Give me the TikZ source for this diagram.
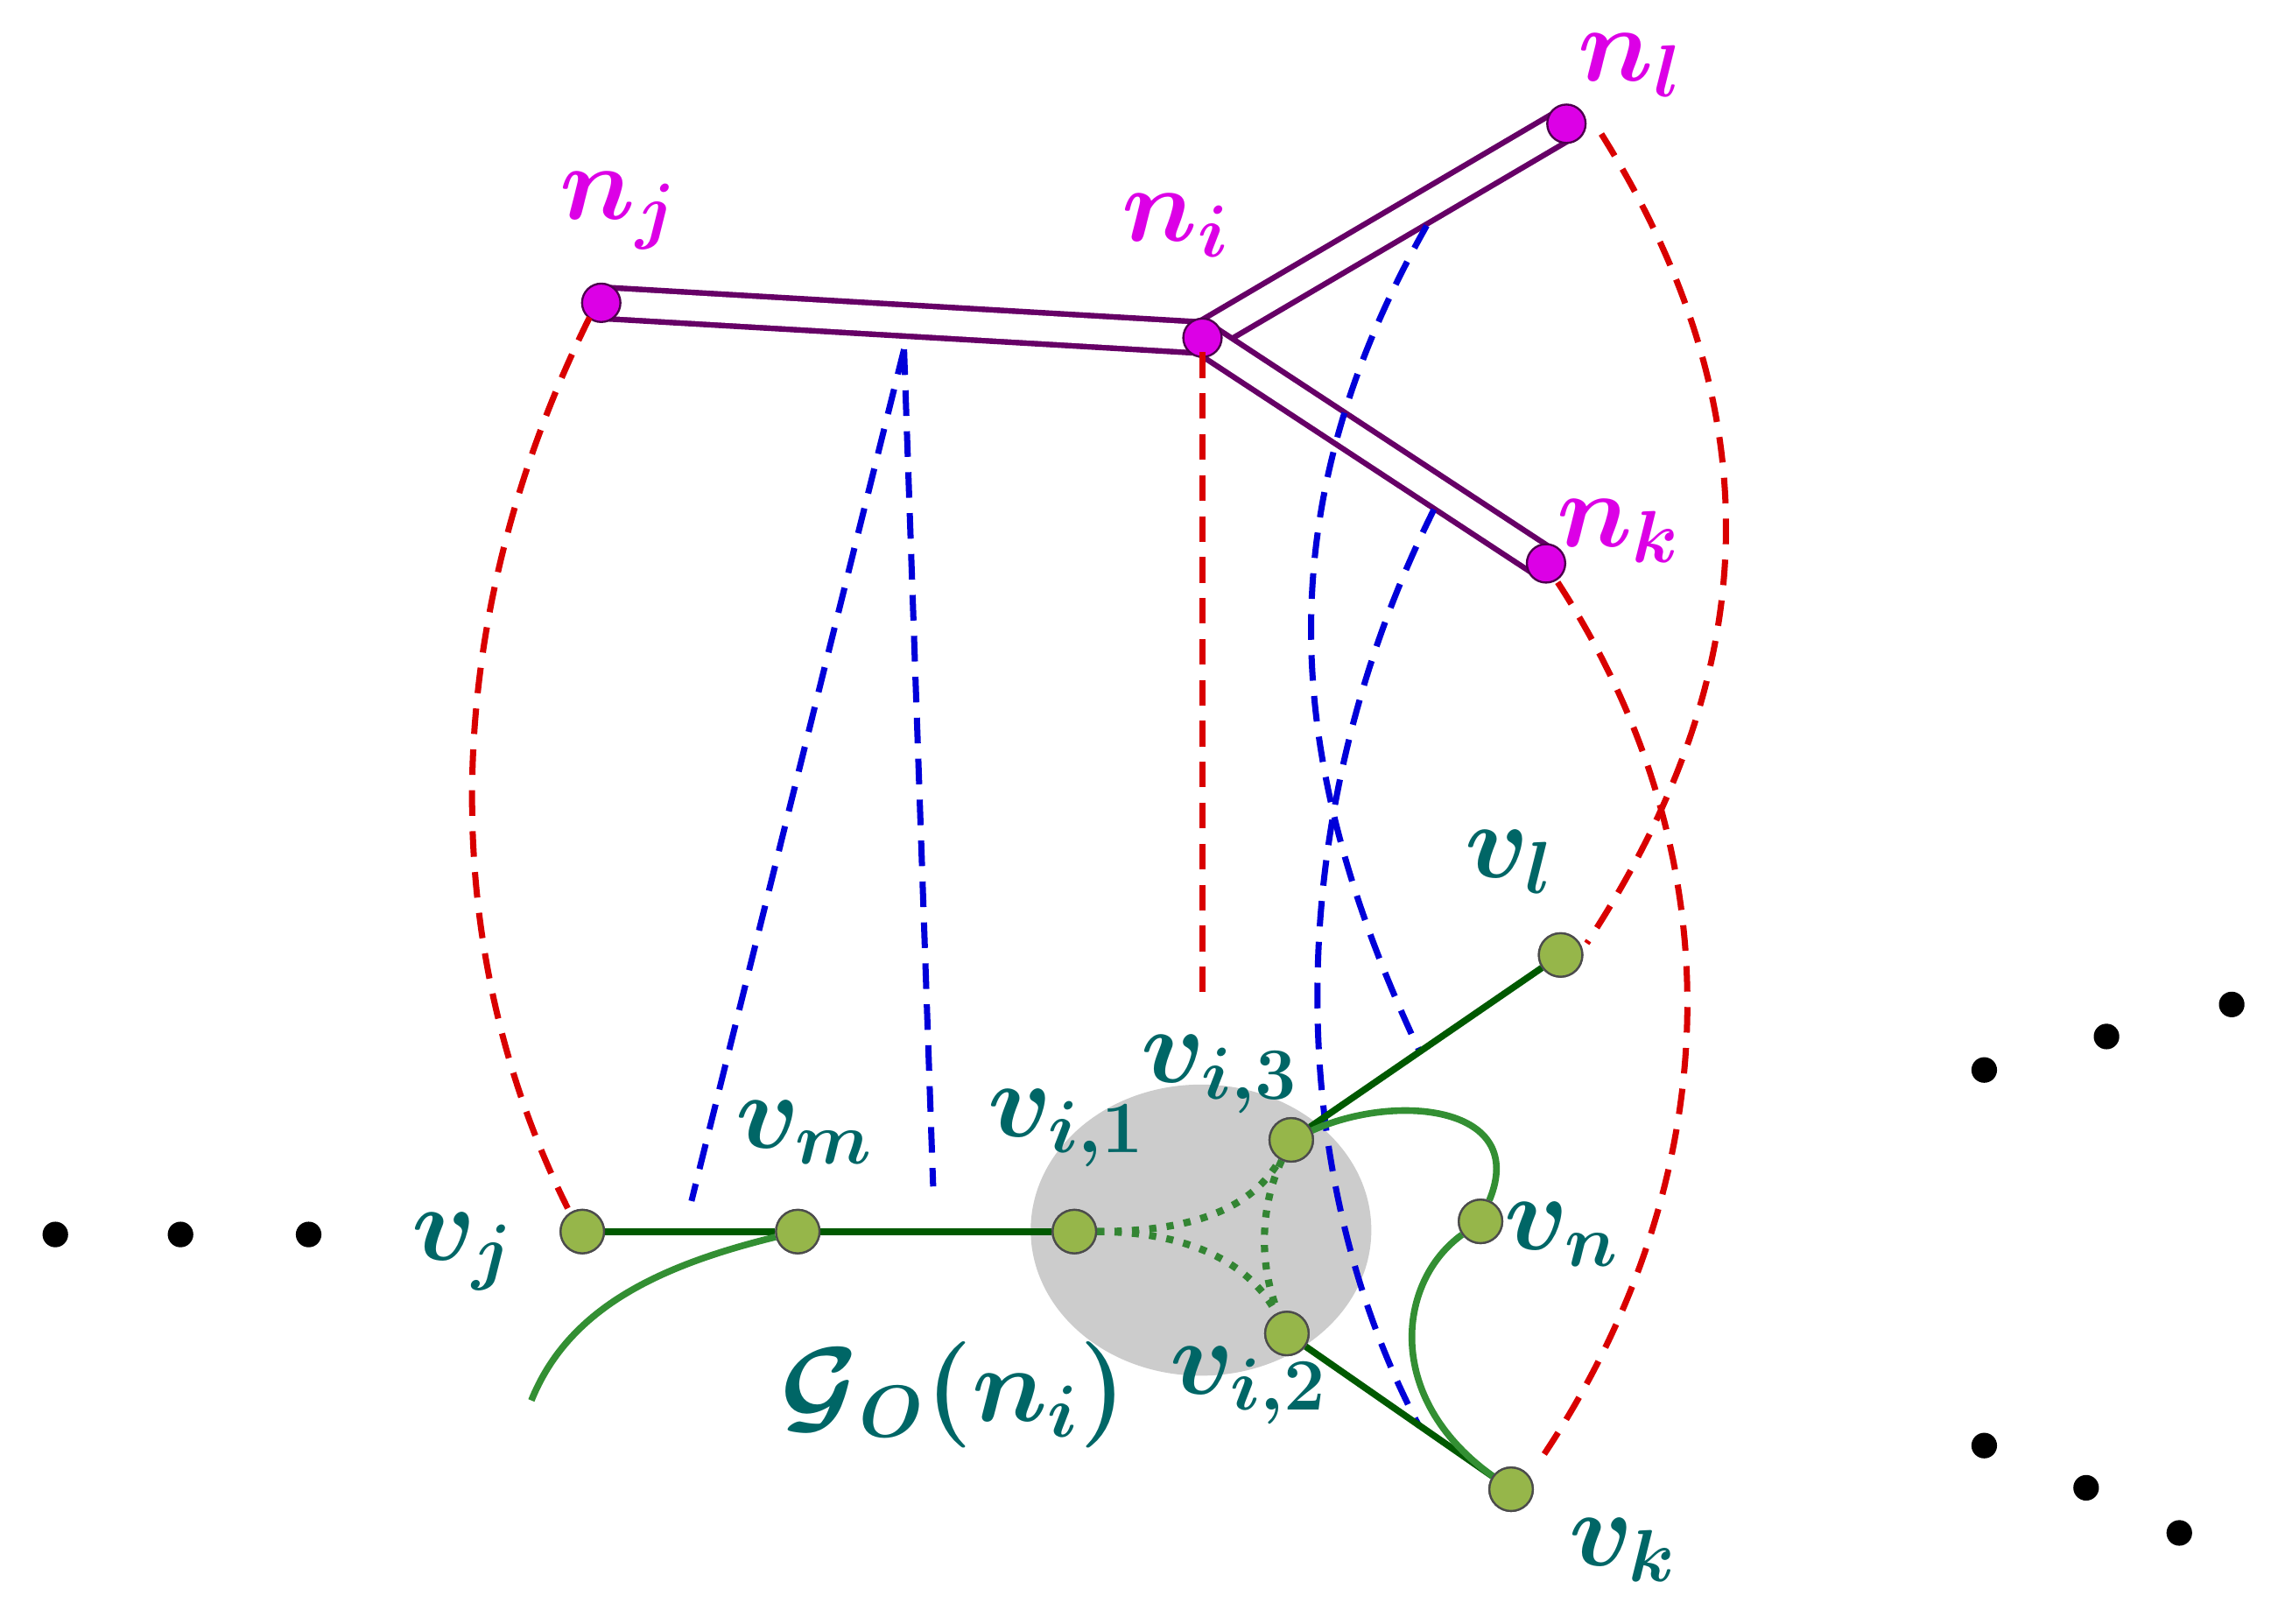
\documentclass[tikz,border=0pt]{standalone}
\usepackage{amsmath,amssymb,bm}
\definecolor{mag}{RGB}{220,0,230}
\begin{document}
\begin{tikzpicture}[x=0.01cm,y=-0.01cm,
 pedge/.style={draw=violet!80!black,line width=1.1pt,double=white,double distance=5pt},
 pnode/.style={circle,fill=mag,draw=violet!60!black,inner sep=0pt,minimum size=7.5pt},
 gnode/.style={circle,fill=olive!60!green!70,draw=black!70,inner sep=0pt,minimum size=8.5pt},
 plab/.style={text=mag,font=\huge},
 glab/.style={text=teal!80!black,font=\huge},
 red/.style={draw=red!85!black,dash pattern=on 5pt off 3pt,line width=1.2pt},
 blue/.style={draw=blue!85!black,dash pattern=on 5pt off 3pt,line width=1.2pt},
 ge/.style={draw=green!35!black,line width=1.3pt},
 gc/.style={draw=green!45!black!80,line width=1.3pt},
 dot/.style={circle,fill=black,inner sep=0pt,minimum size=5pt}]
\useasboundingbox (0,0) rectangle (1560,1115);
\fill[black!20] (825,845) ellipse (117 and 100);
% purple
\coordinate (nj) at (413,208); \coordinate (ni) at (826,232);
\coordinate (nl) at (1076,85); \coordinate (nk) at (1062,387);
\draw[pedge] (nj)--(ni); \draw[pedge] (ni)--(nl); \draw[pedge] (ni)--(nk);
\foreach \n in {nj,ni,nl,nk} \node[pnode] at (\n) {};
\node[plab] at (425,145) {$\bm{n_j}$};
\node[plab] at (808,155) {$\bm{n_i}$};
\node[plab] at (1120,45) {$\bm{n_l}$};
\node[plab] at (1112,365) {$\bm{n_k}$};
% green nodes
\node[gnode] (vj) at (400,846) {};
\node[gnode] (vm) at (548,846) {};
\node[gnode] (vi1) at (738,846) {};
\node[gnode] (vi3) at (887,783) {};
\node[gnode] (vi2) at (884,916) {};
\node[gnode] (vn) at (1017,839) {};
\node[gnode] (vl) at (1072,656) {};
\node[gnode] (vk) at (1038,1023) {};
\coordinate (tail) at (365,962);
% red dashed
\draw[red] (405,218) .. controls (300,430) and (300,650) .. (390,830);
\draw[red] (826,242) -- (826,690);
\draw[red] (1100,92) .. controls (1230,300) and (1200,480) .. (1090,648);
\draw[red] (1070,400) .. controls (1200,600) and (1180,820) .. (1060,1000);
% blue dashed
\draw[blue] (621,240) -- (475,825);
\draw[blue] (621,240) -- (641,815);
\draw[blue] (980,155) .. controls (870,350) and (880,520) .. (975,722);
\draw[blue] (985,350) .. controls (880,560) and (880,800) .. (975,980);
% edges
\draw[ge] (vj)--(vm)--(vi1);
\draw[ge] (vi3)--(vl);
\draw[ge] (vi2)--(vk);
\draw[gc] (vm) .. controls (450,870) and (390,900) .. (tail);
\draw[gc] (vi3) .. controls (960,750) and (1050,760) .. (vn);
\draw[gc] (vn) .. controls (960,880) and (950,960) .. (vk);
\draw[green!40!black!80,dotted,line width=1.4pt] (vi1) .. controls (820,846) and (860,830) .. (vi3);
\draw[green!40!black!80,dotted,line width=1.4pt] (vi1) .. controls (820,846) and (860,870) .. (vi2);
\draw[green!40!black!80,dotted,line width=1.4pt] (vi3) .. controls (865,830) and (865,870) .. (vi2);
\foreach \n in {vj,vm,vi1,vi3,vi2,vn,vl,vk} \node[gnode] at (\n) {};
% labels
\node[glab] at (318,860) {$\bm{v_j}$};
\node[glab] at (553,778) {$\bm{v_m}$};
\node[glab] at (733,775) {$\bm{v_{i,1}}$};
\node[glab] at (838,738) {$\bm{v_{i,3}}$};
\node[glab] at (858,952) {$\bm{v_{i,2}}$};
\node[glab] at (1073,848) {$\bm{v_n}$};
\node[glab] at (1037,592) {$\bm{v_l}$};
\node[glab] at (1115,1065) {$\bm{v_k}$};
\node[glab] at (655,958) {$\bm{\mathcal{G}_O(n_i)}$};
% dots
\foreach \p in {(38,848),(124,848),(212,848),(1363,735),(1447,712),(1533,690),(1363,993),(1433,1022),(1497,1053)}
  \node[dot] at \p {};
\end{tikzpicture}
\end{document}
